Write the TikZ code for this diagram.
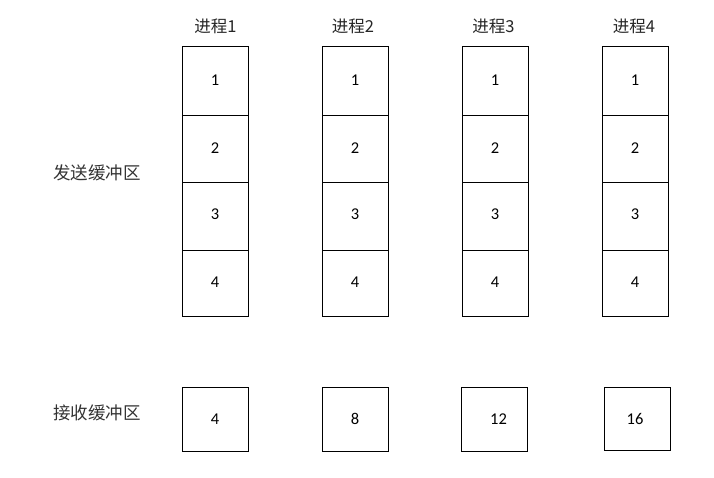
\documentclass[tikz,border=0pt]{standalone}
\usepackage{fontspec}
\setmainfont{Carlito}
\newfontfamily\cjk{Noto Sans CJK SC}
\begin{document}
\begin{tikzpicture}[x=1pt,y=-1pt,
  cell/.style={draw=black,line width=0.9pt,minimum width=66pt,inner sep=0pt,outer sep=0pt,font=\fontsize{16.5}{19}\selectfont},
  title/.style={font=\cjk\fontsize{16.5}{19}\selectfont,inner sep=0pt,text=black!85},
  lbl/.style={font=\cjk\fontsize{17.5}{20}\selectfont,inner sep=0pt,anchor=west,text=black!80}]
\useasboundingbox (0,0) rectangle (714,477);
\foreach \c/\x/\tx in {1/215/215.5,2/355/353,3/495/493.5,4/635/634}{
  \node[title] (t\c) at (\tx,26) {进程\c};
  \node[cell,minimum height=69pt] (c\c a) at (\x,80.5) {1};
  \node[cell,minimum height=67pt] (c\c b) at (\x,148.5) {2};
  \node[cell,minimum height=68pt] (c\c c) at (\x,216) {\raisebox{3pt}{3}};
  \node[cell,minimum height=66pt] (c\c d) at (\x,283) {\raisebox{1.5pt}{4}};
}
\node[cell,minimum height=64pt] (r1) at (215,419) {4};
\node[cell,minimum height=64pt] (r2) at (355,419) {8};
\node[cell,minimum height=64pt] (r3) at (494,419) {\hspace*{9pt}12};
\node[cell,minimum height=63pt] (r4) at (637,418.5) {16\hspace*{4pt}};
\node[lbl] (send) at (53,173) {发送缓冲区};
\node[lbl] (recv) at (53,413) {接收缓冲区};
\end{tikzpicture}
\end{document}
